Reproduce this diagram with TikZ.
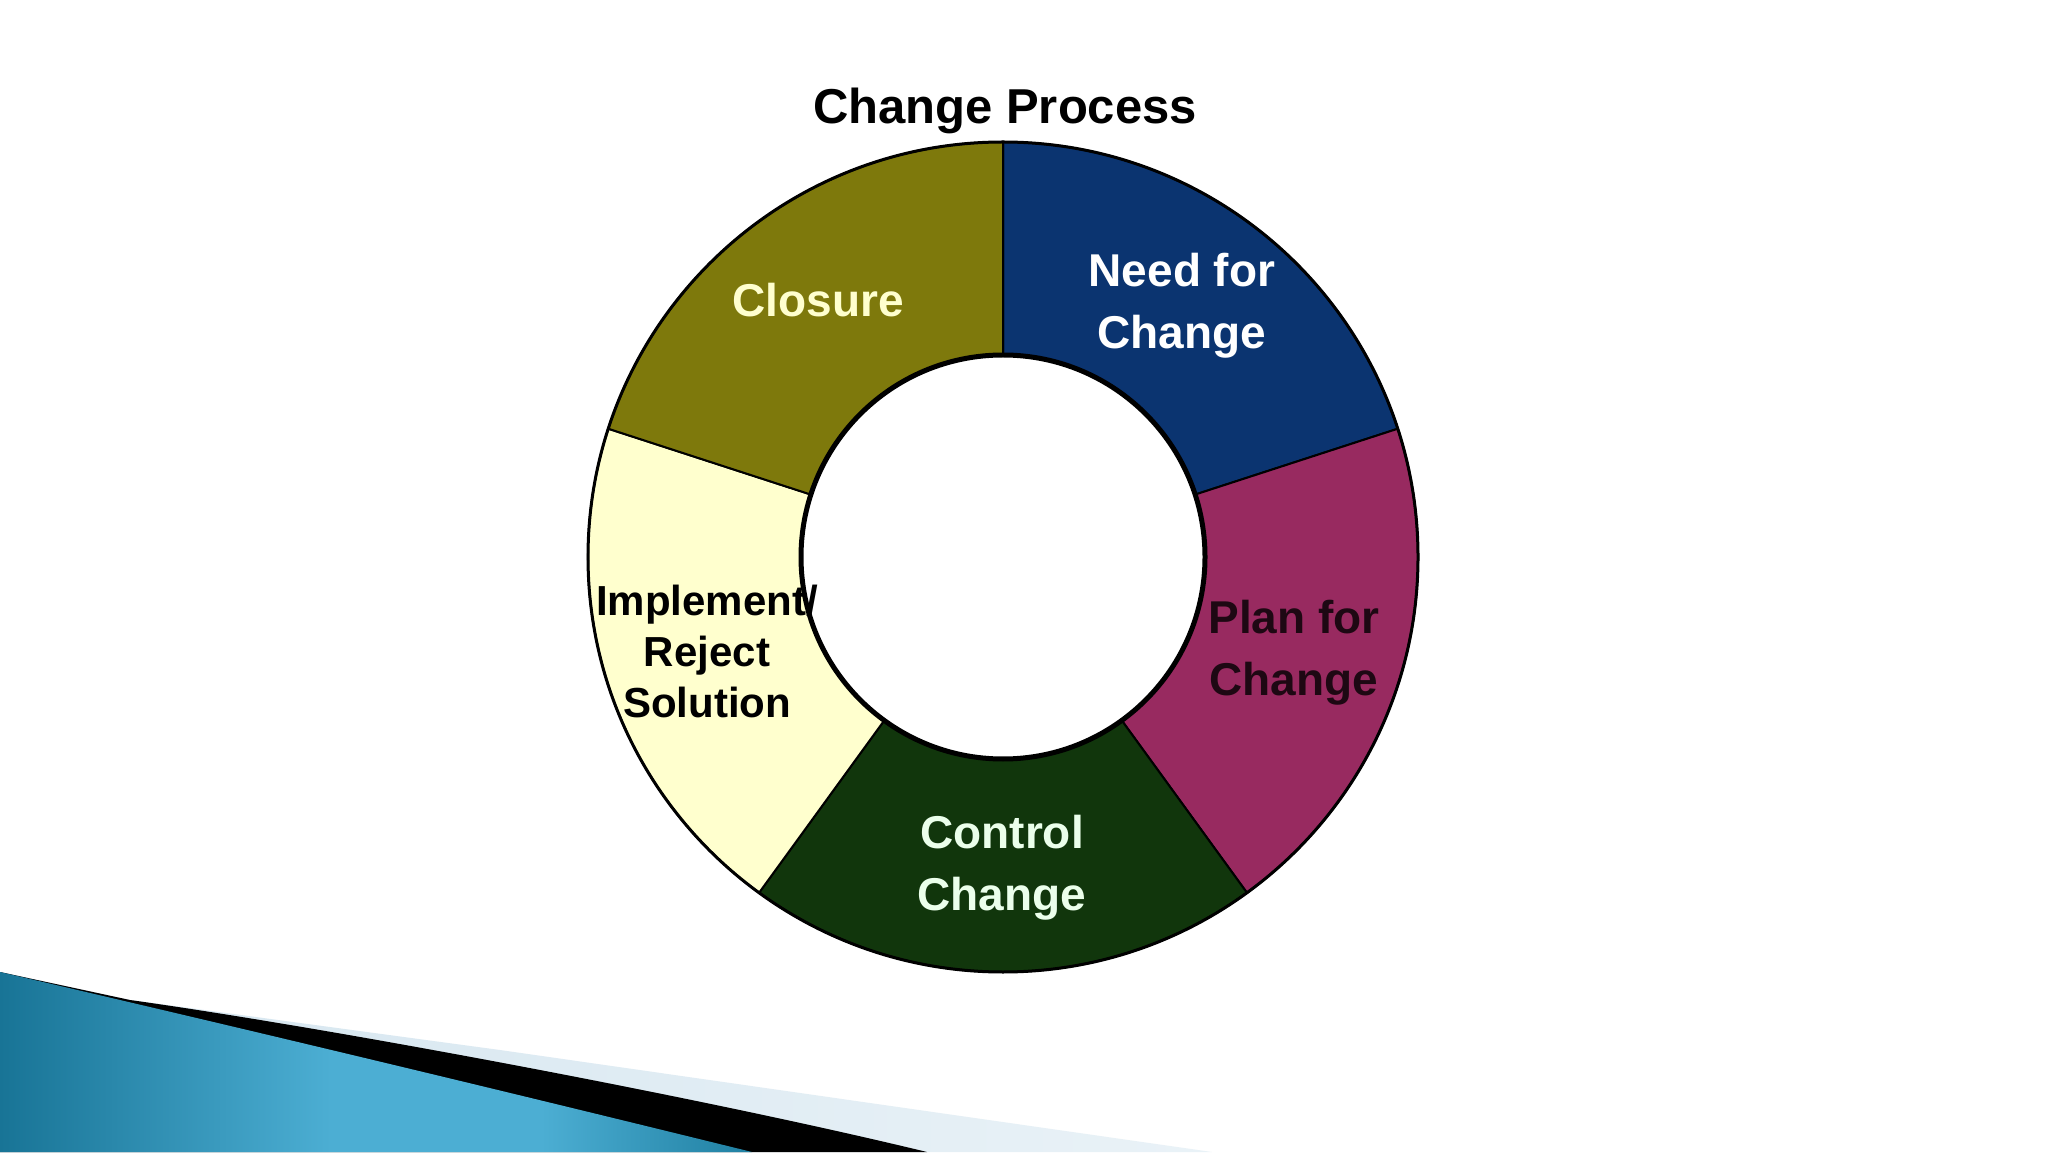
\documentclass[tikz,border=0pt]{standalone}
\usepackage{fontspec}
\setmainfont{Liberation Sans}
\usepackage{tikz}

\definecolor{closurecol}{RGB}{126,121,12}
\definecolor{needcol}{RGB}{11,52,112}
\definecolor{plancol}{RGB}{152,42,96}
\definecolor{controlcol}{RGB}{17,54,12}
\definecolor{implcol}{RGB}{255,255,206}
\definecolor{swooshlight}{RGB}{212,229,239}
\definecolor{swooshdark}{RGB}{24,116,150}
\definecolor{swooshmid}{RGB}{76,174,211}
\definecolor{swooshedge}{RGB}{32,128,162}
\pgfdeclarehorizontalshading{swooshshade}{100bp}{color(0bp)=(swooshdark); color(25bp)=(swooshdark); color(47bp)=(swooshmid); color(61bp)=(swooshmid); color(75bp)=(swooshedge); color(100bp)=(swooshedge)}

\tikzset{
  segline/.style={line width=1pt,draw=black},
  seglabel/.style={align=center,font=\bfseries\fontsize{23}{31}\selectfont},
}

\begin{document}
\begin{tikzpicture}[x=0.5pt,y=0.5pt]
\useasboundingbox (0,0) rectangle (2048,1152);
\fill[white] (0,0) rectangle (2048,1152);
% swoosh at the bottom
\shade[left color=swooshlight,right color=swooshlight!50!white] (0,180) -- (130,152) -- (500,102) -- (1212,0) -- (0,0) -- cycle;
\fill[black] (0,180) -- (130,152) .. controls (330,124) and (700,55) .. (927,0) -- (0,0) -- cycle;
\shade[shading=swooshshade] (0,180) .. controls (250,122) and (500,62) .. (752,0) -- (0,0) -- cycle;
% the ring
\begin{scope}[shift={(1003,595)}]
\draw[segline,fill=needcol] (90:415) arc[start angle=90,end angle=18,radius=415] -- (18:202) arc[start angle=18,end angle=90,radius=202] -- cycle;
\draw[segline,fill=plancol] (18:415) arc[start angle=18,end angle=-54,radius=415] -- (-54:202) arc[start angle=-54,end angle=18,radius=202] -- cycle;
\draw[segline,fill=controlcol] (-54:415) arc[start angle=-54,end angle=-126,radius=415] -- (-126:202) arc[start angle=-126,end angle=-54,radius=202] -- cycle;
\draw[segline,fill=implcol] (-126:415) arc[start angle=-126,end angle=-198,radius=415] -- (162:202) arc[start angle=162,end angle=234,radius=202] -- cycle;
\draw[segline,fill=closurecol] (162:415) arc[start angle=162,end angle=90,radius=415] -- (90:202) arc[start angle=90,end angle=162,radius=202] -- cycle;
\draw[line width=2.5pt] (0,0) circle[radius=202];
\draw[line width=1.5pt] (0,0) circle[radius=415];
\end{scope}
% texts
\node[font=\bfseries\fontsize{24.5}{30}\selectfont] (title) at (1005,1041) {Change Process};
\node[seglabel,text=implcol] (closure) at (818,852) {Closure};
\node[seglabel,text=white] (need) at (1182,846) {Need for\\Change};
\node[seglabel,text=black!80!plancol] (plan) at (1294,499) {Plan for\\Change};
\node[seglabel,text=green!8!white] (control) at (1002,284) {Control\\Change};
\node[seglabel,text=black,font=\bfseries\fontsize{21}{25.5}\selectfont] (impl) at (707,501) {Implement/\\Reject\\Solution};
\end{tikzpicture}
\end{document}
